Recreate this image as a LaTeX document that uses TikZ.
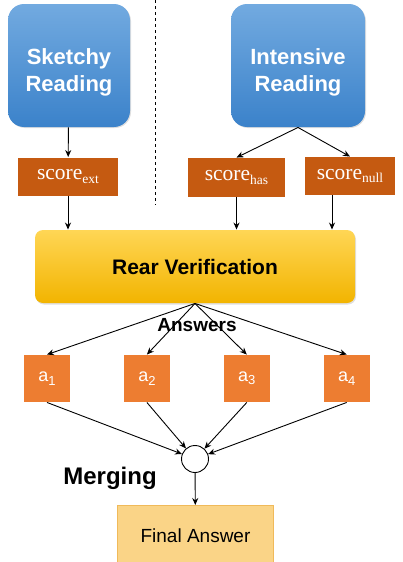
\documentclass[tikz,border=0pt]{standalone}
\usepackage{fontspec}
\setmainfont{Liberation Sans}
\newfontfamily\scorefont{Liberation Serif}
\usetikzlibrary{positioning, arrows.meta, shadows}
\newcommand{\scoretext}[1]{{\scorefont score}\raisebox{-0.3ex}{\scorefont\fontsize{13.5}{13.5}\selectfont #1}}
\newcommand{\anstext}[1]{a\raisebox{-0.35ex}{\fontsize{13}{13}\selectfont #1}}
\newcommand{\flatline}[1]{\raisebox{-12pt}[0pt][0pt]{#1}}
\definecolor{readtop}{RGB}{114,170,224}
\definecolor{readbot}{RGB}{59,130,202}
\definecolor{scorefill}{RGB}{197,90,17}
\definecolor{verifytop}{RGB}{255,214,85}
\definecolor{verifybot}{RGB}{242,180,0}
\definecolor{ansfill}{RGB}{237,125,49}
\definecolor{finalfill}{RGB}{250,212,135}
\definecolor{finaldraw}{RGB}{240,186,90}
\tikzset{
>={Stealth[length=7pt, width=6pt]}, % makes the arrow heads bold
reader/.style={rounded corners=16pt, top color=readtop, bottom color=readbot, minimum height=123pt, align=center, text=white, font=\bfseries\fontsize{22}{27}\selectfont, drop shadow={opacity=0.25, shadow xshift=1pt, shadow yshift=-1pt}}, % the two reading modules
score/.style={fill=scorefill, text=white, minimum height=38pt, inner sep=0pt, font=\fontsize{21.5}{21.5}\selectfont}, % score boxes
verifier/.style={rounded corners=8pt, top color=verifytop, bottom color=verifybot, minimum width=320pt, minimum height=73pt, font=\bfseries\fontsize{21}{21}\selectfont, drop shadow={opacity=0.25, shadow xshift=1pt, shadow yshift=-1.5pt}}, % rear verifier
answer/.style={fill=ansfill, text=white, minimum width=46pt, minimum height=47pt, inner sep=0pt, font=\fontsize{18}{18}\selectfont}, % candidate answers
merger/.style={circle, draw, fill=white, minimum size=27pt, inner sep=0pt},
final/.style={fill=finalfill, draw=finaldraw, minimum width=156pt, minimum height=65pt, font=\fontsize{19}{19}\selectfont},
}

\begin{document}
\begin{tikzpicture}[x=1pt, y=-1pt, node distance=53pt, line width=0.9pt]
  \useasboundingbox (0,0) rectangle (402,562);
  % Readers
  \node[reader, minimum width=122pt] (sr) at (69,65.5) {\flatline{Sketchy}\\\flatline{Reading}};
  \node[reader, minimum width=134pt] (ir) at (298,65.5) {\flatline{Intensive}\\\flatline{Reading}};
  \draw[dashed] (155,0) -- (155,205);

  % Scores
  \node[score, minimum width=100pt] (sext) at (68,176.5) {\scoretext{ext}};
  \node[score, minimum width=97pt, minimum height=39pt] (shas) at (236.5,177.5) {\scoretext{has}};
  \node[score, minimum width=90pt] (snull) at (350,176) {\scoretext{null}};

  % Verification and answers
  \node[verifier] (rv) at (195,266.5) {Rear Verification};
  \node[font=\bfseries\fontsize{19}{19}\selectfont] (anslabel) at (197,325) {Answers};
  \node[answer] (a1) at (47,378.5) {\anstext{1}};
  \node[answer, right=of a1] (a2) {\anstext{2}};
  \node[answer, right=of a2] (a3) {\anstext{3}};
  \node[answer, right=of a3] (a4) {\anstext{4}};

  % Merging
  \node[merger] (mg) at (195,459) {};
  \node[font=\bfseries\fontsize{24}{24}\selectfont] (mglabel) at (110,478) {Merging};
  \node[final, anchor=north] (fa) at (195.5,505) {\raisebox{5pt}{Final Answer}};

  % Transitions
  \path[->]
    (sr) edge (sext)
    (ir.south) edge (shas.north)
    (ir.south) edge (snull.north)
    (sext.south) edge (sext.south |- rv.north)
    (shas.south) edge (shas.south |- rv.north)
    ([xshift=-18pt]snull.south) edge ([xshift=-18pt]snull.south |- rv.north)
    (rv.south) edge (a1.north)
    (rv.south) edge (a2.north)
    (rv.south) edge (a3.north)
    (rv.south) edge (a4.north)
    (a1.south) edge (mg)
    (a2.south) edge (mg)
    (a3.south) edge (mg)
    (a4.south) edge (mg)
    (mg) edge (fa);
\end{tikzpicture}
\end{document}
